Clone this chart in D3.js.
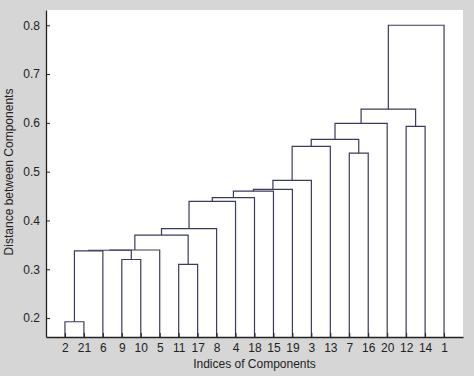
<!DOCTYPE html>
<html>
<head>
<meta charset="utf-8">
<script src="https://cdn.jsdelivr.net/npm/d3@7"></script>
<style>
  body { margin: 0; background: #d6d6d6; }
  svg { display: block; font-family: "Liberation Sans", Arial, sans-serif; }
  .axis path, .axis line { stroke: #222; }
  .axis text { font-size: 12px; fill: #222; }
  .link { fill: none; stroke: #3b3b5c; stroke-width: 1.2; }
</style>
</head>
<body>
<div id="chart"></div>
<script>
// leaf order along the x axis
var leafOrder = [2, 21, 6, 9, 10, 5, 11, 17, 8, 4, 18, 15, 19, 3, 13, 7, 16, 20, 12, 14, 1];

// linkage rows, matlab style: ids 1..21 are leaves, 22+ are clusters
var mergeLeft   = [2, 11, 9, 22, 25, 26, 27, 28, 29, 30, 31, 32, 33, 7, 34, 36, 12, 37, 39, 40];
var mergeRight  = [21, 17, 10, 6, 24, 5, 23, 8, 4, 18, 15, 19, 3, 16, 13, 35, 14, 20, 38, 1];
var mergeHeight = [0.1925, 0.310, 0.320, 0.3376, 0.3390, 0.3395, 0.370, 0.3834, 0.439, 0.447,
                   0.460, 0.4638, 0.482, 0.538, 0.552, 0.566, 0.593, 0.599, 0.628, 0.800];

var yTicks = [0.2, 0.3, 0.4, 0.5, 0.6, 0.7, 0.8];

var W = 474, H = 376,
    margin = {top: 10, right: 11, bottom: 39, left: 46},
    width = W - margin.left - margin.right,
    height = H - margin.top - margin.bottom;

var svg = d3.select("#chart").append("svg")
    .attr("width", W)
    .attr("height", H);

svg.append("rect")
    .attr("x", margin.left).attr("y", margin.top)
    .attr("width", width).attr("height", height)
    .attr("fill", "#fff");

var g = svg.append("g")
    .attr("transform", "translate(" + margin.left + "," + margin.top + ")");

var x = d3.scaleLinear().domain([0, leafOrder.length + 1]).range([0, width]);
var y = d3.scaleLinear().domain([0.1612, 0.8313]).range([height, 0]);

// node positions
var nodeX = {}, nodeY = {};
leafOrder.forEach(function (id, i) {
    nodeX[id] = x(i + 1);
    nodeY[id] = y.domain()[0];
});
var n = leafOrder.length;
mergeHeight.forEach(function (h, i) {
    var id = n + 1 + i,
        a = mergeLeft[i], b = mergeRight[i];
    nodeX[id] = (nodeX[a] + nodeX[b]) / 2;
    nodeY[id] = h;
});

var links = mergeHeight.map(function (h, i) {
    var a = mergeLeft[i], b = mergeRight[i];
    return [[nodeX[a], y(nodeY[a])], [nodeX[a], y(h)], [nodeX[b], y(h)], [nodeX[b], y(nodeY[b])]];
});

g.selectAll("path.link").data(links).enter().append("path")
    .attr("class", "link")
    .attr("d", d3.line());

// axes
var xAxis = d3.axisBottom(x)
    .tickValues(d3.range(1, n + 1))
    .tickFormat(function (d) { return leafOrder[d - 1]; })
    .tickSizeInner(-4).tickSizeOuter(0).tickPadding(6);

g.append("g").attr("class", "axis")
    .attr("transform", "translate(0," + height + ")")
    .call(xAxis);

var yAxis = d3.axisLeft(y)
    .tickValues(yTicks)
    .tickFormat(d3.format(".1f"))
    .tickSizeInner(-4).tickSizeOuter(0).tickPadding(6);

g.append("g").attr("class", "axis")
    .call(yAxis);

g.selectAll(".axis .domain").attr("stroke-width", 1.3);

svg.append("text")
    .attr("x", margin.left + width / 2)
    .attr("y", H - 8)
    .attr("text-anchor", "middle")
    .attr("font-size", 12)
    .attr("fill", "#222")
    .text("Indices of Components");

svg.append("text")
    .attr("transform", "translate(13,172) rotate(-90)")
    .attr("text-anchor", "middle")
    .attr("font-size", 12)
    .attr("fill", "#222")
    .text("Distance between Components");
</script>
</body>
</html>
